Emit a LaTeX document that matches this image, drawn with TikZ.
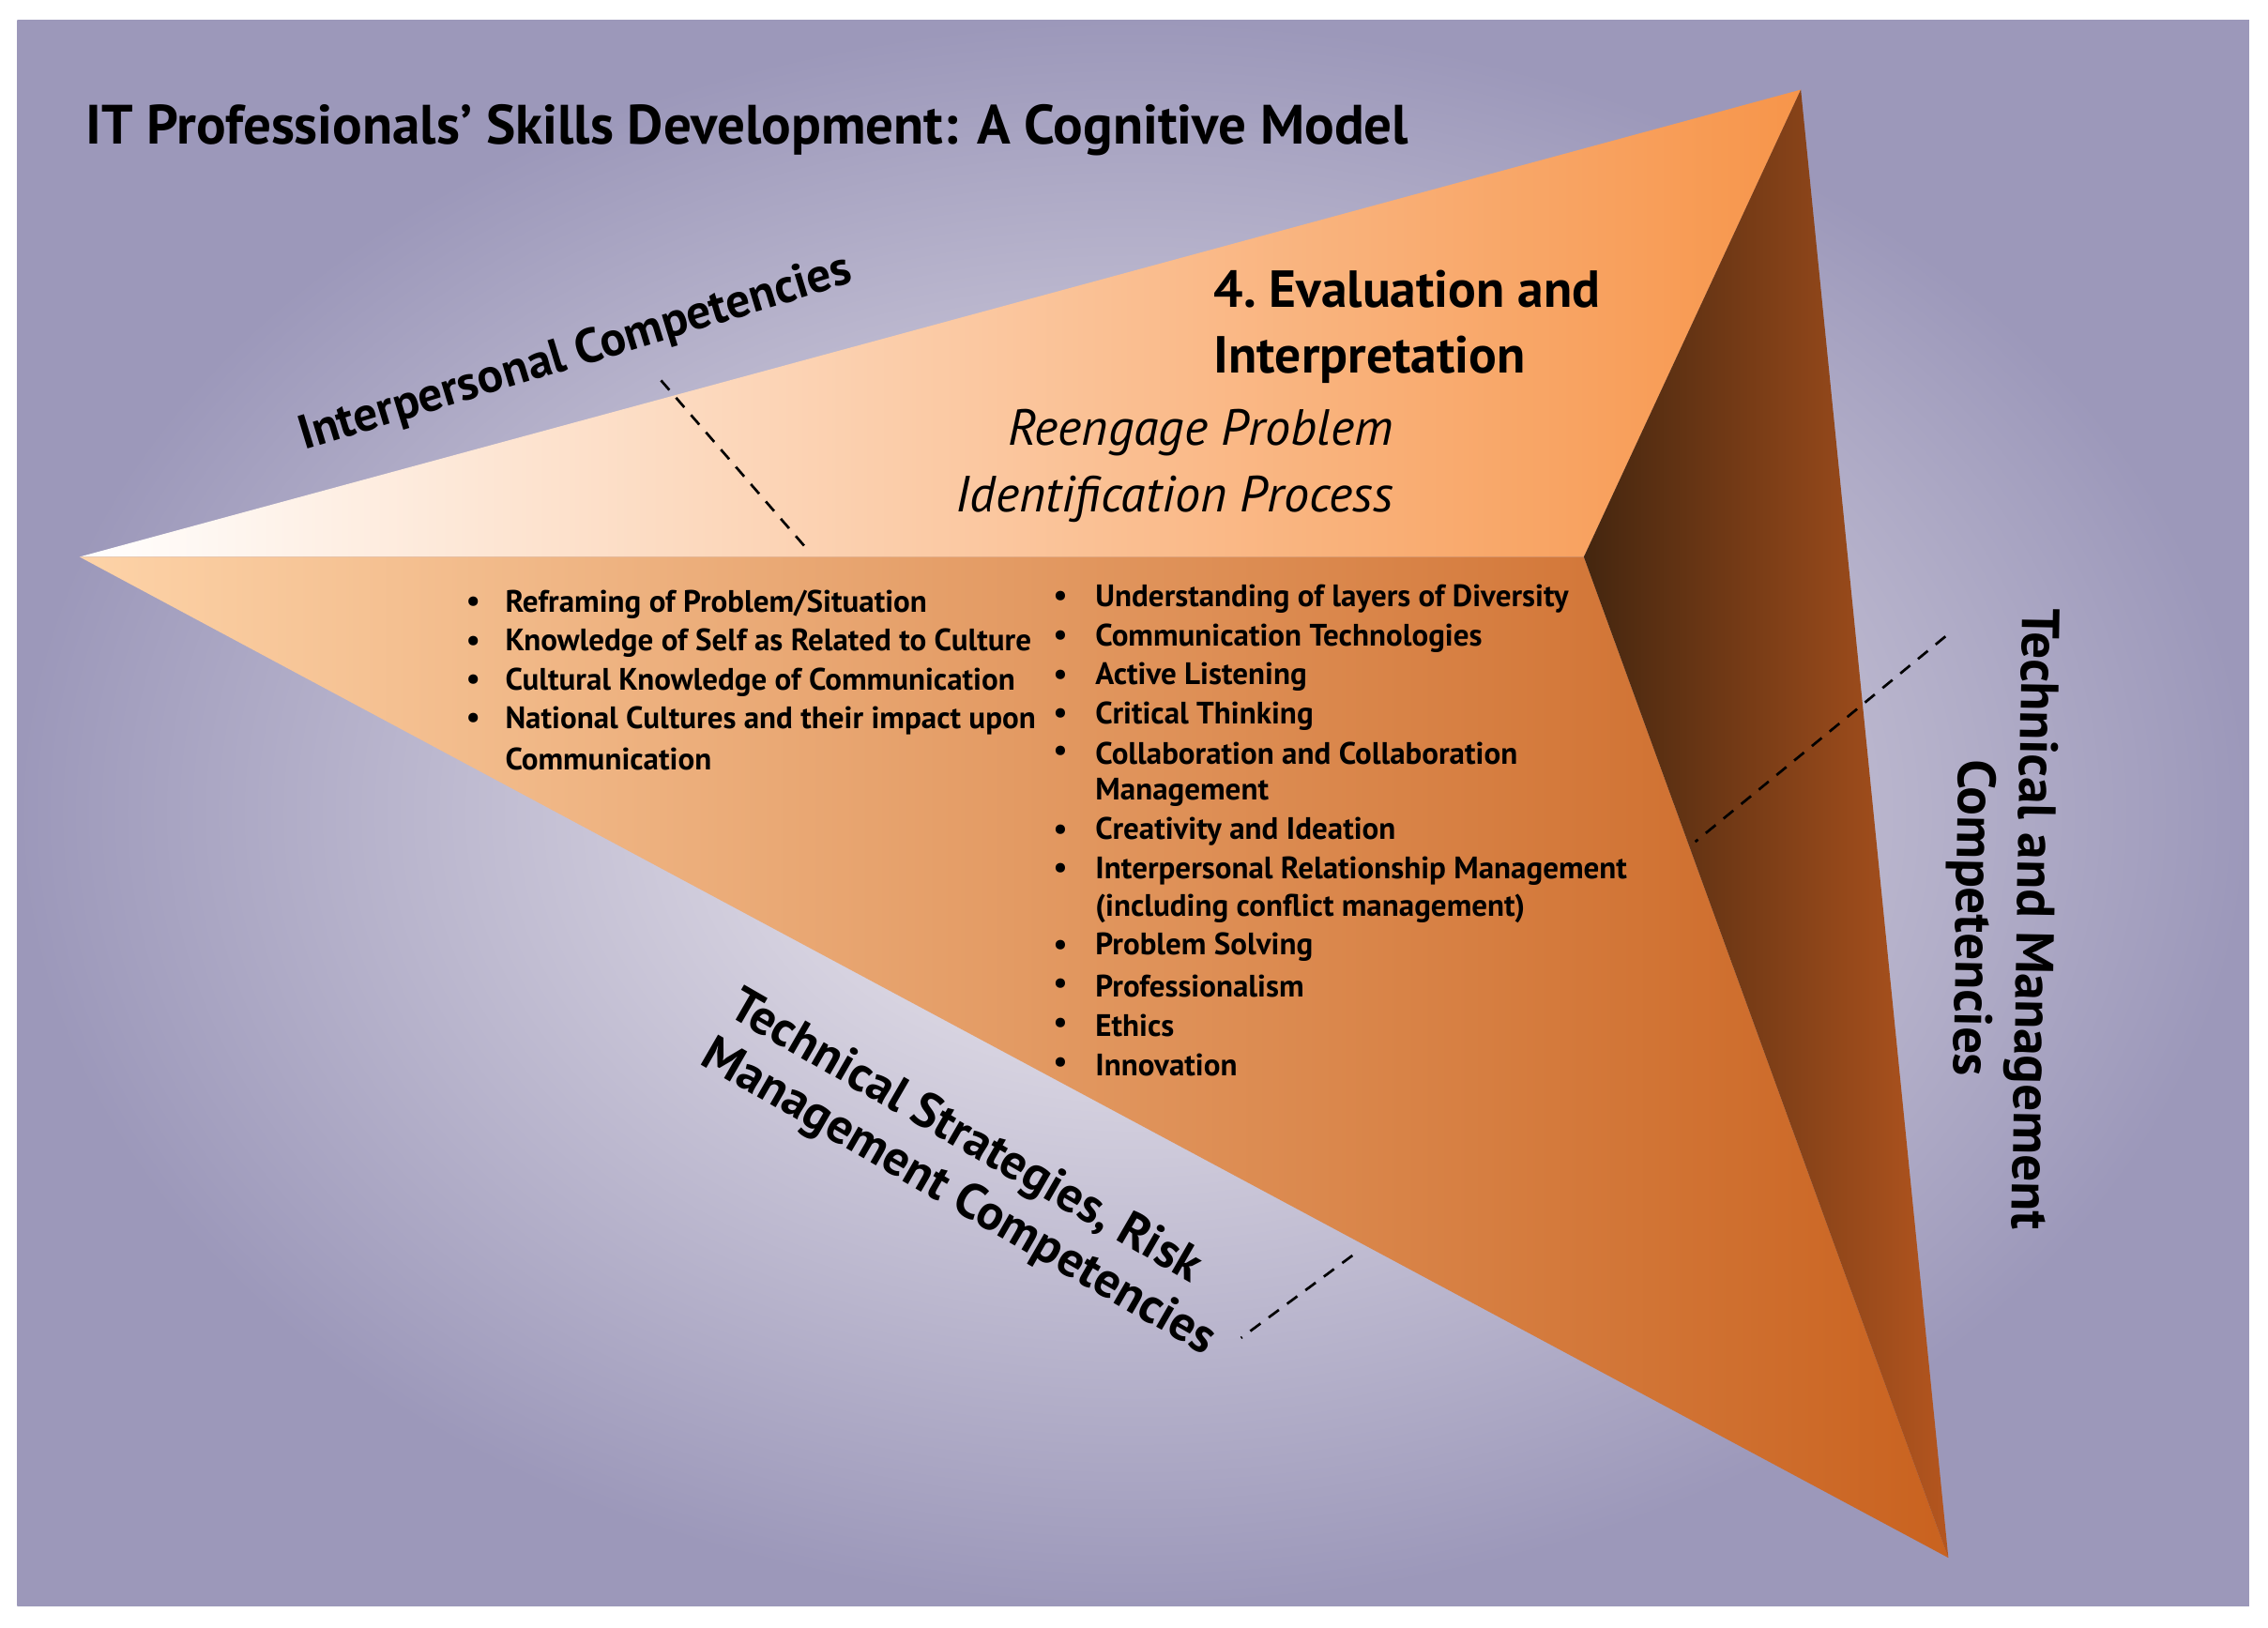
\documentclass[tikz,border=0pt]{standalone}
\usepackage{fontspec}
\setmainfont{PT Sans}
\definecolor{bgout}{HTML}{9C98BA}
\definecolor{bgin}{HTML}{F2EEF2}
\definecolor{upR}{HTML}{F7954A}
\definecolor{loL}{HTML}{FDD3A8}
\definecolor{loR}{HTML}{C9621F}
\definecolor{rfL}{HTML}{44260F}
\definecolor{rfR}{HTML}{B5561F}
\begin{document}
\begin{tikzpicture}[x=0.02cm,y=-0.02cm,
  bl/.style={anchor=west,font=\bfseries\fontsize{12.2}{13}\selectfont,inner sep=0pt},
  lab/.style={font=\bfseries\fontsize{18}{20}\selectfont,align=center},
  dl/.style={dash pattern=on 5pt off 4pt,line width=1pt}]
\useasboundingbox (0,0) rectangle (1568,1125);
\fill[white] (0,0) rectangle (1568,1125);
\shade[inner color=bgin, outer color=bgout] (12,14) rectangle (1555,1110);
\coordinate (L) at (55,385);
\coordinate (T) at (1245,62);
\coordinate (M) at (1095,385);
\coordinate (B) at (1347,1077);
\shade[left color=white, right color=upR] (L)--(T)--(M)--cycle;
\shade[left color=loL, right color=loR] (L)--(M)--(B)--cycle;
\shade[left color=rfL, right color=rfR] (T)--(M)--(B)--cycle;
\node[anchor=west,font=\bfseries\fontsize{21.8}{25}\selectfont] (title) at (53,90) {IT Professionals’ Skills Development: A Cognitive Model};
\node[anchor=west,align=left,font=\bfseries\fontsize{20.5}{26}\selectfont] (eval) at (833,226) {4.\ Evaluation and\\Interpretation};
\node[align=right,font=\itshape\fontsize{20}{26}\selectfont] (reen) at (812,322) {Reengage Problem\\Identification Process};
\foreach \t [count=\i] in {Reframing of Problem/Situation,Knowledge of Self as Related to Culture,Cultural Knowledge of Communication,National Cultures and their impact upon}
  {\node[bl] at (322,418+26.8*\i-26.8) {•}; \node[bl] (lb\i) at (349,418+26.8*\i-26.8) {\t};}
\node[bl] (lb5) at (349,525) {Communication};
\foreach \t/\y in {Understanding of layers of Diversity/414,Communication Technologies/441,Active Listening/468,Critical Thinking/495,Collaboration and Collaboration/521,Creativity and Ideation/575,Interpersonal Relationship Management/602,Problem Solving/655,Professionalism/682,Ethics/709,Innovation/736}
  {\node[bl] at (728,\y) {•}; \node[bl] at (757,\y) {\t};}
\node[bl] at (757,548) {Management};
\node[bl] at (757,628) {(including conflict management)};
\node[lab,rotate=17,font=\bfseries\fontsize{19}{20}\selectfont] (ic) at (398,245) {Interpersonal Competencies};
\node[lab,rotate=-30,align=left,font=\bfseries\fontsize{19.5}{22}\selectfont] (ts) at (672,812) {Technical Strategies, Risk\\Management Competencies};
\node[lab,rotate=-91,font=\bfseries\fontsize{21}{24}\selectfont] (tm) at (1383,635) {Technical and Management\\Competencies};
\coordinate (a1) at (457,263); \coordinate (a2) at (560,382);
\coordinate (b1) at (1345,440); \coordinate (b2) at (1172,582);
\coordinate (c1) at (935,868); \coordinate (c2) at (858,925);
\draw[dl] (a1)--(a2); \draw[dl] (b1)--(b2); \draw[dl] (c1)--(c2);
\end{tikzpicture}
\end{document}
